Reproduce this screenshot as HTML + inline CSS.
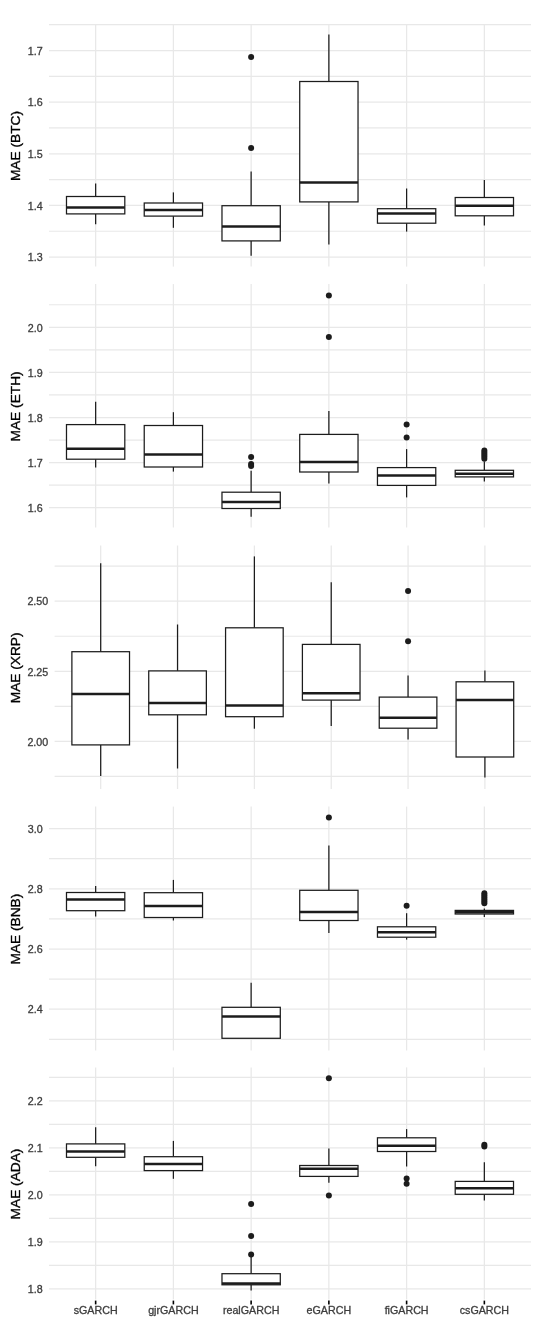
<!DOCTYPE html>
<html><head><meta charset="utf-8"><title>MAE boxplots</title>
<style>
html,body{margin:0;padding:0;background:#fff;}
body{width:550px;height:1333px;overflow:hidden;}
svg{display:block;}
text{font-family:"Liberation Sans",Arial,Helvetica,sans-serif;}
</style></head><body>
<svg width="550" height="1333" viewBox="0 0 550 1333">
<rect width="550" height="1333" fill="#fff"/>
<g stroke="#E8E8E8" fill="none">
<line x1="49" x2="531" y1="231.27" y2="231.27" stroke-width="1.2"/>
<line x1="49" x2="531" y1="179.62" y2="179.62" stroke-width="1.2"/>
<line x1="49" x2="531" y1="127.97" y2="127.97" stroke-width="1.2"/>
<line x1="49" x2="531" y1="76.33" y2="76.33" stroke-width="1.2"/>
<line x1="49" x2="531" y1="24.67" y2="24.67" stroke-width="1.2"/>
<line x1="49" x2="531" y1="257.1" y2="257.1" stroke-width="1.25"/>
<line x1="49" x2="531" y1="205.45" y2="205.45" stroke-width="1.25"/>
<line x1="49" x2="531" y1="153.8" y2="153.8" stroke-width="1.25"/>
<line x1="49" x2="531" y1="102.15" y2="102.15" stroke-width="1.25"/>
<line x1="49" x2="531" y1="50.5" y2="50.5" stroke-width="1.25"/>
<line x1="95.65" x2="95.65" y1="24.2" y2="266.6" stroke-width="1.25"/>
<line x1="173.39" x2="173.39" y1="24.2" y2="266.6" stroke-width="1.25"/>
<line x1="251.13" x2="251.13" y1="24.2" y2="266.6" stroke-width="1.25"/>
<line x1="328.87" x2="328.87" y1="24.2" y2="266.6" stroke-width="1.25"/>
<line x1="406.61" x2="406.61" y1="24.2" y2="266.6" stroke-width="1.25"/>
<line x1="484.35" x2="484.35" y1="24.2" y2="266.6" stroke-width="1.25"/>
<line x1="49" x2="531" y1="485.15" y2="485.15" stroke-width="1.2"/>
<line x1="49" x2="531" y1="440.05" y2="440.05" stroke-width="1.2"/>
<line x1="49" x2="531" y1="394.95" y2="394.95" stroke-width="1.2"/>
<line x1="49" x2="531" y1="349.85" y2="349.85" stroke-width="1.2"/>
<line x1="49" x2="531" y1="304.75" y2="304.75" stroke-width="1.2"/>
<line x1="49" x2="531" y1="507.7" y2="507.7" stroke-width="1.25"/>
<line x1="49" x2="531" y1="462.6" y2="462.6" stroke-width="1.25"/>
<line x1="49" x2="531" y1="417.5" y2="417.5" stroke-width="1.25"/>
<line x1="49" x2="531" y1="372.4" y2="372.4" stroke-width="1.25"/>
<line x1="49" x2="531" y1="327.3" y2="327.3" stroke-width="1.25"/>
<line x1="95.65" x2="95.65" y1="284.1" y2="527.5" stroke-width="1.25"/>
<line x1="173.39" x2="173.39" y1="284.1" y2="527.5" stroke-width="1.25"/>
<line x1="251.13" x2="251.13" y1="284.1" y2="527.5" stroke-width="1.25"/>
<line x1="328.87" x2="328.87" y1="284.1" y2="527.5" stroke-width="1.25"/>
<line x1="406.61" x2="406.61" y1="284.1" y2="527.5" stroke-width="1.25"/>
<line x1="484.35" x2="484.35" y1="284.1" y2="527.5" stroke-width="1.25"/>
<line x1="54.6" x2="531" y1="776.45" y2="776.45" stroke-width="1.2"/>
<line x1="54.6" x2="531" y1="706.35" y2="706.35" stroke-width="1.2"/>
<line x1="54.6" x2="531" y1="636.25" y2="636.25" stroke-width="1.2"/>
<line x1="54.6" x2="531" y1="566.15" y2="566.15" stroke-width="1.2"/>
<line x1="54.6" x2="531" y1="741.4" y2="741.4" stroke-width="1.25"/>
<line x1="54.6" x2="531" y1="671.3" y2="671.3" stroke-width="1.25"/>
<line x1="54.6" x2="531" y1="601.2" y2="601.2" stroke-width="1.25"/>
<line x1="100.7" x2="100.7" y1="545.5" y2="789" stroke-width="1.25"/>
<line x1="177.54" x2="177.54" y1="545.5" y2="789" stroke-width="1.25"/>
<line x1="254.38" x2="254.38" y1="545.5" y2="789" stroke-width="1.25"/>
<line x1="331.22" x2="331.22" y1="545.5" y2="789" stroke-width="1.25"/>
<line x1="408.06" x2="408.06" y1="545.5" y2="789" stroke-width="1.25"/>
<line x1="484.9" x2="484.9" y1="545.5" y2="789" stroke-width="1.25"/>
<line x1="49" x2="531" y1="1039.3" y2="1039.3" stroke-width="1.2"/>
<line x1="49" x2="531" y1="979.1" y2="979.1" stroke-width="1.2"/>
<line x1="49" x2="531" y1="918.9" y2="918.9" stroke-width="1.2"/>
<line x1="49" x2="531" y1="858.7" y2="858.7" stroke-width="1.2"/>
<line x1="49" x2="531" y1="1009.2" y2="1009.2" stroke-width="1.25"/>
<line x1="49" x2="531" y1="949" y2="949" stroke-width="1.25"/>
<line x1="49" x2="531" y1="888.8" y2="888.8" stroke-width="1.25"/>
<line x1="49" x2="531" y1="828.6" y2="828.6" stroke-width="1.25"/>
<line x1="95.65" x2="95.65" y1="806.6" y2="1050.5" stroke-width="1.25"/>
<line x1="173.39" x2="173.39" y1="806.6" y2="1050.5" stroke-width="1.25"/>
<line x1="251.13" x2="251.13" y1="806.6" y2="1050.5" stroke-width="1.25"/>
<line x1="328.87" x2="328.87" y1="806.6" y2="1050.5" stroke-width="1.25"/>
<line x1="406.61" x2="406.61" y1="806.6" y2="1050.5" stroke-width="1.25"/>
<line x1="484.35" x2="484.35" y1="806.6" y2="1050.5" stroke-width="1.25"/>
<line x1="49" x2="531" y1="1265.3" y2="1265.3" stroke-width="1.2"/>
<line x1="49" x2="531" y1="1218.3" y2="1218.3" stroke-width="1.2"/>
<line x1="49" x2="531" y1="1171.3" y2="1171.3" stroke-width="1.2"/>
<line x1="49" x2="531" y1="1124.3" y2="1124.3" stroke-width="1.2"/>
<line x1="49" x2="531" y1="1077.3" y2="1077.3" stroke-width="1.2"/>
<line x1="49" x2="531" y1="1288.8" y2="1288.8" stroke-width="1.25"/>
<line x1="49" x2="531" y1="1241.8" y2="1241.8" stroke-width="1.25"/>
<line x1="49" x2="531" y1="1194.8" y2="1194.8" stroke-width="1.25"/>
<line x1="49" x2="531" y1="1147.8" y2="1147.8" stroke-width="1.25"/>
<line x1="49" x2="531" y1="1100.8" y2="1100.8" stroke-width="1.25"/>
<line x1="95.65" x2="95.65" y1="1067.4" y2="1299.4" stroke-width="1.25"/>
<line x1="173.39" x2="173.39" y1="1067.4" y2="1299.4" stroke-width="1.25"/>
<line x1="251.13" x2="251.13" y1="1067.4" y2="1299.4" stroke-width="1.25"/>
<line x1="328.87" x2="328.87" y1="1067.4" y2="1299.4" stroke-width="1.25"/>
<line x1="406.61" x2="406.61" y1="1067.4" y2="1299.4" stroke-width="1.25"/>
<line x1="484.35" x2="484.35" y1="1067.4" y2="1299.4" stroke-width="1.25"/>
</g>
<g stroke="#1c1c1c" stroke-width="1.25" fill="none">
<line x1="95.65" x2="95.65" y1="183.6" y2="196.5"/>
<line x1="95.65" x2="95.65" y1="213.9" y2="224.3"/>
<rect x="66.49" y="196.5" width="58.31" height="17.4" fill="#fff"/>
<line x1="66.49" x2="124.8" y1="207.4" y2="207.4" stroke-width="2.5"/>
<line x1="173.39" x2="173.39" y1="192.4" y2="203"/>
<line x1="173.39" x2="173.39" y1="216.1" y2="227.8"/>
<rect x="144.23" y="203" width="58.31" height="13.1" fill="#fff"/>
<line x1="144.23" x2="202.54" y1="210.1" y2="210.1" stroke-width="2.5"/>
<line x1="251.13" x2="251.13" y1="171.5" y2="205.7"/>
<line x1="251.13" x2="251.13" y1="240.9" y2="255.7"/>
<rect x="221.98" y="205.7" width="58.31" height="35.2" fill="#fff"/>
<line x1="221.98" x2="280.28" y1="226.5" y2="226.5" stroke-width="2.5"/>
<circle cx="251.13" cy="56.9" r="3.0" fill="#1c1c1c" stroke="none"/>
<circle cx="251.13" cy="147.9" r="3.0" fill="#1c1c1c" stroke="none"/>
<line x1="328.87" x2="328.87" y1="34.6" y2="81.5"/>
<line x1="328.87" x2="328.87" y1="201.9" y2="244.5"/>
<rect x="299.72" y="81.5" width="58.31" height="120.4" fill="#fff"/>
<line x1="299.72" x2="358.02" y1="182.5" y2="182.5" stroke-width="2.5"/>
<line x1="406.61" x2="406.61" y1="188.5" y2="208.7"/>
<line x1="406.61" x2="406.61" y1="223.2" y2="231.6"/>
<rect x="377.46" y="208.7" width="58.31" height="14.5" fill="#fff"/>
<line x1="377.46" x2="435.77" y1="213.6" y2="213.6" stroke-width="2.5"/>
<line x1="484.35" x2="484.35" y1="180.1" y2="197.5"/>
<line x1="484.35" x2="484.35" y1="215.8" y2="225.6"/>
<rect x="455.2" y="197.5" width="58.31" height="18.3" fill="#fff"/>
<line x1="455.2" x2="513.51" y1="205.7" y2="205.7" stroke-width="2.5"/>
<line x1="95.65" x2="95.65" y1="401.8" y2="424.6"/>
<line x1="95.65" x2="95.65" y1="459.2" y2="467.5"/>
<rect x="66.49" y="424.6" width="58.31" height="34.6" fill="#fff"/>
<line x1="66.49" x2="124.8" y1="448.7" y2="448.7" stroke-width="2.5"/>
<line x1="173.39" x2="173.39" y1="412.2" y2="425.5"/>
<line x1="173.39" x2="173.39" y1="467" y2="471.6"/>
<rect x="144.23" y="425.5" width="58.31" height="41.5" fill="#fff"/>
<line x1="144.23" x2="202.54" y1="454.4" y2="454.4" stroke-width="2.5"/>
<line x1="251.13" x2="251.13" y1="470.7" y2="492.2"/>
<line x1="251.13" x2="251.13" y1="508.5" y2="516.7"/>
<rect x="221.98" y="492.2" width="58.31" height="16.3" fill="#fff"/>
<line x1="221.98" x2="280.28" y1="502" y2="502" stroke-width="2.5"/>
<circle cx="251.13" cy="457.1" r="3.0" fill="#1c1c1c" stroke="none"/>
<circle cx="251.13" cy="464" r="3.0" fill="#1c1c1c" stroke="none"/>
<circle cx="251.13" cy="465.9" r="3.0" fill="#1c1c1c" stroke="none"/>
<line x1="328.87" x2="328.87" y1="410.9" y2="434.4"/>
<line x1="328.87" x2="328.87" y1="472" y2="483.4"/>
<rect x="299.72" y="434.4" width="58.31" height="37.6" fill="#fff"/>
<line x1="299.72" x2="358.02" y1="461.9" y2="461.9" stroke-width="2.5"/>
<circle cx="328.87" cy="295.5" r="3.0" fill="#1c1c1c" stroke="none"/>
<circle cx="328.87" cy="337" r="3.0" fill="#1c1c1c" stroke="none"/>
<line x1="406.61" x2="406.61" y1="449.1" y2="467.6"/>
<line x1="406.61" x2="406.61" y1="485.4" y2="497.4"/>
<rect x="377.46" y="467.6" width="58.31" height="17.8" fill="#fff"/>
<line x1="377.46" x2="435.77" y1="475.5" y2="475.5" stroke-width="2.5"/>
<circle cx="406.61" cy="424.5" r="3.0" fill="#1c1c1c" stroke="none"/>
<circle cx="406.61" cy="437.4" r="3.0" fill="#1c1c1c" stroke="none"/>
<line x1="484.35" x2="484.35" y1="461.6" y2="470.3"/>
<line x1="484.35" x2="484.35" y1="476.9" y2="481.4"/>
<rect x="455.2" y="470.3" width="58.31" height="6.6" fill="#fff"/>
<line x1="455.2" x2="513.51" y1="473.7" y2="473.7" stroke-width="2.5"/>
<circle cx="484.35" cy="450.5" r="3.0" fill="#1c1c1c" stroke="none"/>
<circle cx="484.35" cy="452.5" r="3.0" fill="#1c1c1c" stroke="none"/>
<circle cx="484.35" cy="454.5" r="3.0" fill="#1c1c1c" stroke="none"/>
<circle cx="484.35" cy="456.5" r="3.0" fill="#1c1c1c" stroke="none"/>
<circle cx="484.35" cy="458.8" r="3.0" fill="#1c1c1c" stroke="none"/>
<line x1="100.7" x2="100.7" y1="563.3" y2="651.7"/>
<line x1="100.7" x2="100.7" y1="744.9" y2="775.9"/>
<rect x="71.89" y="651.7" width="57.63" height="93.2" fill="#fff"/>
<line x1="71.89" x2="129.52" y1="694" y2="694" stroke-width="2.5"/>
<line x1="177.54" x2="177.54" y1="624.5" y2="670.9"/>
<line x1="177.54" x2="177.54" y1="714.8" y2="768.5"/>
<rect x="148.73" y="670.9" width="57.63" height="43.9" fill="#fff"/>
<line x1="148.73" x2="206.36" y1="703.1" y2="703.1" stroke-width="2.5"/>
<line x1="254.38" x2="254.38" y1="556.4" y2="627.8"/>
<line x1="254.38" x2="254.38" y1="716.7" y2="728.7"/>
<rect x="225.57" y="627.8" width="57.63" height="88.9" fill="#fff"/>
<line x1="225.57" x2="283.2" y1="705.5" y2="705.5" stroke-width="2.5"/>
<line x1="331.22" x2="331.22" y1="582.3" y2="644.4"/>
<line x1="331.22" x2="331.22" y1="700.1" y2="726"/>
<rect x="302.4" y="644.4" width="57.63" height="55.7" fill="#fff"/>
<line x1="302.4" x2="360.03" y1="693.3" y2="693.3" stroke-width="2.5"/>
<line x1="408.06" x2="408.06" y1="675.5" y2="697.1"/>
<line x1="408.06" x2="408.06" y1="728.2" y2="739.6"/>
<rect x="379.24" y="697.1" width="57.63" height="31.1" fill="#fff"/>
<line x1="379.24" x2="436.87" y1="717.8" y2="717.8" stroke-width="2.5"/>
<circle cx="408.06" cy="591" r="3.0" fill="#1c1c1c" stroke="none"/>
<circle cx="408.06" cy="641.2" r="3.0" fill="#1c1c1c" stroke="none"/>
<line x1="484.9" x2="484.9" y1="670.6" y2="681.8"/>
<line x1="484.9" x2="484.9" y1="757" y2="777.6"/>
<rect x="456.08" y="681.8" width="57.63" height="75.2" fill="#fff"/>
<line x1="456.08" x2="513.71" y1="700" y2="700" stroke-width="2.5"/>
<line x1="95.65" x2="95.65" y1="885.9" y2="892.5"/>
<line x1="95.65" x2="95.65" y1="910.7" y2="916.4"/>
<rect x="66.49" y="892.5" width="58.31" height="18.2" fill="#fff"/>
<line x1="66.49" x2="124.8" y1="899.5" y2="899.5" stroke-width="2.5"/>
<line x1="173.39" x2="173.39" y1="879.9" y2="892.7"/>
<line x1="173.39" x2="173.39" y1="917.5" y2="920.5"/>
<rect x="144.23" y="892.7" width="58.31" height="24.8" fill="#fff"/>
<line x1="144.23" x2="202.54" y1="906.1" y2="906.1" stroke-width="2.5"/>
<line x1="251.13" x2="251.13" y1="982.7" y2="1007.3"/>
<rect x="221.98" y="1007.3" width="58.31" height="31" fill="#fff"/>
<line x1="221.98" x2="280.28" y1="1016.5" y2="1016.5" stroke-width="2.5"/>
<line x1="328.87" x2="328.87" y1="845.5" y2="890.3"/>
<line x1="328.87" x2="328.87" y1="920.5" y2="933.1"/>
<rect x="299.72" y="890.3" width="58.31" height="30.2" fill="#fff"/>
<line x1="299.72" x2="358.02" y1="912.1" y2="912.1" stroke-width="2.5"/>
<circle cx="328.87" cy="817.5" r="3.0" fill="#1c1c1c" stroke="none"/>
<line x1="406.61" x2="406.61" y1="913.2" y2="926.8"/>
<line x1="406.61" x2="406.61" y1="937.2" y2="939.6"/>
<rect x="377.46" y="926.8" width="58.31" height="10.4" fill="#fff"/>
<line x1="377.46" x2="435.77" y1="932.3" y2="932.3" stroke-width="2.5"/>
<circle cx="406.61" cy="905.8" r="3.0" fill="#1c1c1c" stroke="none"/>
<line x1="484.35" x2="484.35" y1="908.6" y2="910.4"/>
<line x1="484.35" x2="484.35" y1="914" y2="916.9"/>
<rect x="455.2" y="910.4" width="58.31" height="3.6" fill="#fff"/>
<line x1="455.2" x2="513.51" y1="912.2" y2="912.2" stroke-width="2.5"/>
<circle cx="484.35" cy="893.2" r="3.0" fill="#1c1c1c" stroke="none"/>
<circle cx="484.35" cy="895.2" r="3.0" fill="#1c1c1c" stroke="none"/>
<circle cx="484.35" cy="897.2" r="3.0" fill="#1c1c1c" stroke="none"/>
<circle cx="484.35" cy="899.2" r="3.0" fill="#1c1c1c" stroke="none"/>
<circle cx="484.35" cy="901.2" r="3.0" fill="#1c1c1c" stroke="none"/>
<circle cx="484.35" cy="903.3" r="3.0" fill="#1c1c1c" stroke="none"/>
<line x1="95.65" x2="95.65" y1="1127.3" y2="1143.9"/>
<line x1="95.65" x2="95.65" y1="1157.3" y2="1166.3"/>
<rect x="66.49" y="1143.9" width="58.31" height="13.4" fill="#fff"/>
<line x1="66.49" x2="124.8" y1="1151.6" y2="1151.6" stroke-width="2.5"/>
<line x1="173.39" x2="173.39" y1="1140.9" y2="1156.7"/>
<line x1="173.39" x2="173.39" y1="1170.6" y2="1178.8"/>
<rect x="144.23" y="1156.7" width="58.31" height="13.9" fill="#fff"/>
<line x1="144.23" x2="202.54" y1="1164.1" y2="1164.1" stroke-width="2.5"/>
<line x1="251.13" x2="251.13" y1="1256.4" y2="1273.7"/>
<line x1="251.13" x2="251.13" y1="1284.8" y2="1290.5"/>
<rect x="221.98" y="1273.7" width="58.31" height="11.1" fill="#fff"/>
<line x1="221.98" x2="280.28" y1="1283.4" y2="1283.4" stroke-width="2.5"/>
<circle cx="251.13" cy="1204" r="3.0" fill="#1c1c1c" stroke="none"/>
<circle cx="251.13" cy="1235.9" r="3.0" fill="#1c1c1c" stroke="none"/>
<circle cx="251.13" cy="1254.6" r="3.0" fill="#1c1c1c" stroke="none"/>
<line x1="328.87" x2="328.87" y1="1148.6" y2="1165.5"/>
<line x1="328.87" x2="328.87" y1="1176.4" y2="1182.7"/>
<rect x="299.72" y="1165.5" width="58.31" height="10.9" fill="#fff"/>
<line x1="299.72" x2="358.02" y1="1168.8" y2="1168.8" stroke-width="2.5"/>
<circle cx="328.87" cy="1078.3" r="3.0" fill="#1c1c1c" stroke="none"/>
<circle cx="328.87" cy="1195.5" r="3.0" fill="#1c1c1c" stroke="none"/>
<line x1="406.61" x2="406.61" y1="1129.1" y2="1137.8"/>
<line x1="406.61" x2="406.61" y1="1151.5" y2="1166.5"/>
<rect x="377.46" y="1137.8" width="58.31" height="13.7" fill="#fff"/>
<line x1="377.46" x2="435.77" y1="1145.7" y2="1145.7" stroke-width="2.5"/>
<circle cx="406.61" cy="1178.4" r="3.0" fill="#1c1c1c" stroke="none"/>
<circle cx="406.61" cy="1183.8" r="3.0" fill="#1c1c1c" stroke="none"/>
<line x1="484.35" x2="484.35" y1="1162.2" y2="1181.4"/>
<line x1="484.35" x2="484.35" y1="1194.3" y2="1200.5"/>
<rect x="455.2" y="1181.4" width="58.31" height="12.9" fill="#fff"/>
<line x1="455.2" x2="513.51" y1="1188.3" y2="1188.3" stroke-width="2.5"/>
<circle cx="484.35" cy="1144.8" r="3.0" fill="#1c1c1c" stroke="none"/>
<circle cx="484.35" cy="1146.6" r="3.0" fill="#1c1c1c" stroke="none"/>
<line x1="95.65" x2="95.65" y1="1300.6" y2="1304.4" stroke-width="1.6" stroke="#000"/>
<line x1="173.39" x2="173.39" y1="1300.6" y2="1304.4" stroke-width="1.6" stroke="#000"/>
<line x1="251.13" x2="251.13" y1="1300.6" y2="1304.4" stroke-width="1.6" stroke="#000"/>
<line x1="328.87" x2="328.87" y1="1300.6" y2="1304.4" stroke-width="1.6" stroke="#000"/>
<line x1="406.61" x2="406.61" y1="1300.6" y2="1304.4" stroke-width="1.6" stroke="#000"/>
<line x1="484.35" x2="484.35" y1="1300.6" y2="1304.4" stroke-width="1.6" stroke="#000"/>
</g>
<g>
<text transform="translate(42.6 261.3) scale(1.05 1)" text-anchor="end" fill="#3d3d3d" stroke="#3d3d3d" stroke-width="0.3" font-size="10.2">1.3</text>
<text transform="translate(42.6 209.65) scale(1.05 1)" text-anchor="end" fill="#3d3d3d" stroke="#3d3d3d" stroke-width="0.3" font-size="10.2">1.4</text>
<text transform="translate(42.6 158) scale(1.05 1)" text-anchor="end" fill="#3d3d3d" stroke="#3d3d3d" stroke-width="0.3" font-size="10.2">1.5</text>
<text transform="translate(42.6 106.35) scale(1.05 1)" text-anchor="end" fill="#3d3d3d" stroke="#3d3d3d" stroke-width="0.3" font-size="10.2">1.6</text>
<text transform="translate(42.6 54.7) scale(1.05 1)" text-anchor="end" fill="#3d3d3d" stroke="#3d3d3d" stroke-width="0.3" font-size="10.2">1.7</text>
<text transform="translate(20.4 146) rotate(-90) scale(1.025 1)" text-anchor="middle" fill="#000" stroke="#000" stroke-width="0.35" font-size="13.4">MAE (BTC)</text>
<text transform="translate(42.6 511.9) scale(1.05 1)" text-anchor="end" fill="#3d3d3d" stroke="#3d3d3d" stroke-width="0.3" font-size="10.2">1.6</text>
<text transform="translate(42.6 466.8) scale(1.05 1)" text-anchor="end" fill="#3d3d3d" stroke="#3d3d3d" stroke-width="0.3" font-size="10.2">1.7</text>
<text transform="translate(42.6 421.7) scale(1.05 1)" text-anchor="end" fill="#3d3d3d" stroke="#3d3d3d" stroke-width="0.3" font-size="10.2">1.8</text>
<text transform="translate(42.6 376.6) scale(1.05 1)" text-anchor="end" fill="#3d3d3d" stroke="#3d3d3d" stroke-width="0.3" font-size="10.2">1.9</text>
<text transform="translate(42.6 331.5) scale(1.05 1)" text-anchor="end" fill="#3d3d3d" stroke="#3d3d3d" stroke-width="0.3" font-size="10.2">2.0</text>
<text transform="translate(20.4 406.4) rotate(-90) scale(1.025 1)" text-anchor="middle" fill="#000" stroke="#000" stroke-width="0.35" font-size="13.4">MAE (ETH)</text>
<text transform="translate(48.2 745.6) scale(1.05 1)" text-anchor="end" fill="#3d3d3d" stroke="#3d3d3d" stroke-width="0.3" font-size="10.2">2.00</text>
<text transform="translate(48.2 675.5) scale(1.05 1)" text-anchor="end" fill="#3d3d3d" stroke="#3d3d3d" stroke-width="0.3" font-size="10.2">2.25</text>
<text transform="translate(48.2 605.4) scale(1.05 1)" text-anchor="end" fill="#3d3d3d" stroke="#3d3d3d" stroke-width="0.3" font-size="10.2">2.50</text>
<text transform="translate(20.4 667.85) rotate(-90) scale(1.025 1)" text-anchor="middle" fill="#000" stroke="#000" stroke-width="0.35" font-size="13.4">MAE (XRP)</text>
<text transform="translate(42.6 1013.4) scale(1.05 1)" text-anchor="end" fill="#3d3d3d" stroke="#3d3d3d" stroke-width="0.3" font-size="10.2">2.4</text>
<text transform="translate(42.6 953.2) scale(1.05 1)" text-anchor="end" fill="#3d3d3d" stroke="#3d3d3d" stroke-width="0.3" font-size="10.2">2.6</text>
<text transform="translate(42.6 893) scale(1.05 1)" text-anchor="end" fill="#3d3d3d" stroke="#3d3d3d" stroke-width="0.3" font-size="10.2">2.8</text>
<text transform="translate(42.6 832.8) scale(1.05 1)" text-anchor="end" fill="#3d3d3d" stroke="#3d3d3d" stroke-width="0.3" font-size="10.2">3.0</text>
<text transform="translate(20.4 929.15) rotate(-90) scale(1.025 1)" text-anchor="middle" fill="#000" stroke="#000" stroke-width="0.35" font-size="13.4">MAE (BNB)</text>
<text transform="translate(42.6 1293) scale(1.05 1)" text-anchor="end" fill="#3d3d3d" stroke="#3d3d3d" stroke-width="0.3" font-size="10.2">1.8</text>
<text transform="translate(42.6 1246) scale(1.05 1)" text-anchor="end" fill="#3d3d3d" stroke="#3d3d3d" stroke-width="0.3" font-size="10.2">1.9</text>
<text transform="translate(42.6 1199) scale(1.05 1)" text-anchor="end" fill="#3d3d3d" stroke="#3d3d3d" stroke-width="0.3" font-size="10.2">2.0</text>
<text transform="translate(42.6 1152) scale(1.05 1)" text-anchor="end" fill="#3d3d3d" stroke="#3d3d3d" stroke-width="0.3" font-size="10.2">2.1</text>
<text transform="translate(42.6 1105) scale(1.05 1)" text-anchor="end" fill="#3d3d3d" stroke="#3d3d3d" stroke-width="0.3" font-size="10.2">2.2</text>
<text transform="translate(20.4 1184) rotate(-90) scale(1.025 1)" text-anchor="middle" fill="#000" stroke="#000" stroke-width="0.35" font-size="13.4">MAE (ADA)</text>
<text transform="translate(95.65 1314) scale(1.05 1)" text-anchor="middle" fill="#3d3d3d" stroke="#3d3d3d" stroke-width="0.3" font-size="10.2">sGARCH</text>
<text transform="translate(173.39 1314) scale(1.05 1)" text-anchor="middle" fill="#3d3d3d" stroke="#3d3d3d" stroke-width="0.3" font-size="10.2">gjrGARCH</text>
<text transform="translate(251.13 1314) scale(1.05 1)" text-anchor="middle" fill="#3d3d3d" stroke="#3d3d3d" stroke-width="0.3" font-size="10.2">realGARCH</text>
<text transform="translate(328.87 1314) scale(1.05 1)" text-anchor="middle" fill="#3d3d3d" stroke="#3d3d3d" stroke-width="0.3" font-size="10.2">eGARCH</text>
<text transform="translate(406.61 1314) scale(1.05 1)" text-anchor="middle" fill="#3d3d3d" stroke="#3d3d3d" stroke-width="0.3" font-size="10.2">fiGARCH</text>
<text transform="translate(484.35 1314) scale(1.05 1)" text-anchor="middle" fill="#3d3d3d" stroke="#3d3d3d" stroke-width="0.3" font-size="10.2">csGARCH</text>
</g>
</svg>
</body></html>
